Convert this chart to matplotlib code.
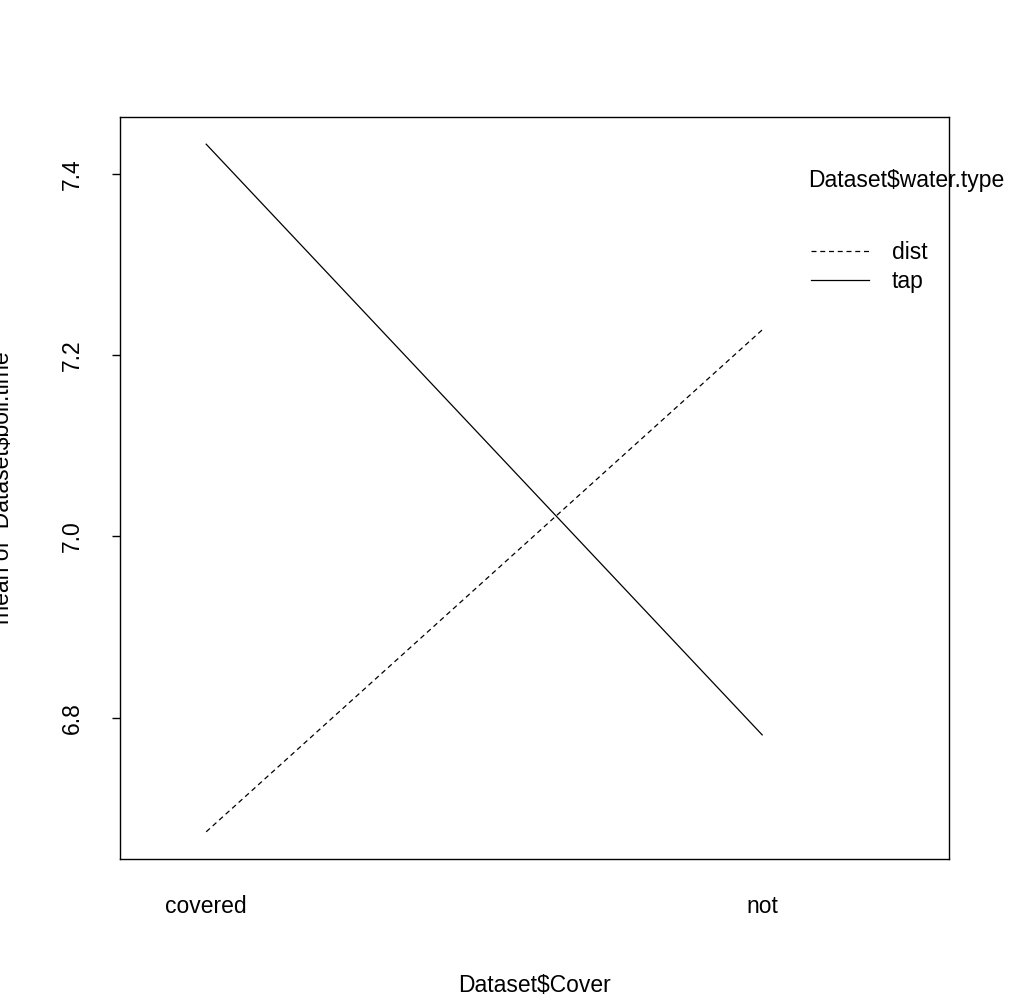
import matplotlib
matplotlib.use('Agg')
from matplotlib import pyplot as plt
from matplotlib.lines import Line2D

plt.rcParams['font.family']= ['Liberation Sans', 'DejaVu Sans']

cover= ['covered', 'not']
dist= [6.674, 7.228]
tap= [7.433, 6.781]
yticks= [6.8, 7.0, 7.2, 7.4]
fs= 16.5

fig= plt.figure(figsize=(10.09, 10.01), dpi=100)
ax= fig.add_axes([120/1009, 1-859/1001, (949-120)/1009, (859-117)/1001])
x= [1, 2]
ax.plot(x, dist, color='black', lw=0.9, ls=(0, (4, 3)))
ax.plot(x, tap, color='black', lw=0.9)
ax.set_xlim(0.845, 2.336)
ax.set_ylim(6.644, 7.463)
ax.set_xticks(x)
ax.set_xticklabels(cover, fontsize=fs)
ax.tick_params(axis='x', length=0, pad=26)
ax.set_yticks(yticks)
ax.set_yticklabels(['%.1f' % v for v in yticks], fontsize=fs, rotation=90, va='center')
ax.tick_params(axis='y', length=6, width=1, pad=20)
for s in ax.spines.values():
    s.set_linewidth(1)
ax.set_xlabel('Dataset$Cover', fontsize=fs, labelpad=40)
ax.set_ylabel('mean of  Dataset$boil.time', fontsize=fs, labelpad=34)

fig.text(808/1009, 1-180/1001, 'Dataset$water.type', fontsize=fs, va='center')
handles= [Line2D([], [], color='black', lw=0.9, ls=(0, (4, 3))), Line2D([], [], color='black', lw=0.9)]
fig.legend(handles, ['dist', 'tap'], loc='upper left', bbox_to_anchor=(800/1009, 1-230/1001),
           frameon=False, fontsize=fs, handlelength=2.5, handletextpad=1.0, labelspacing=0.25, borderpad=0)

fig.savefig('out.png')
